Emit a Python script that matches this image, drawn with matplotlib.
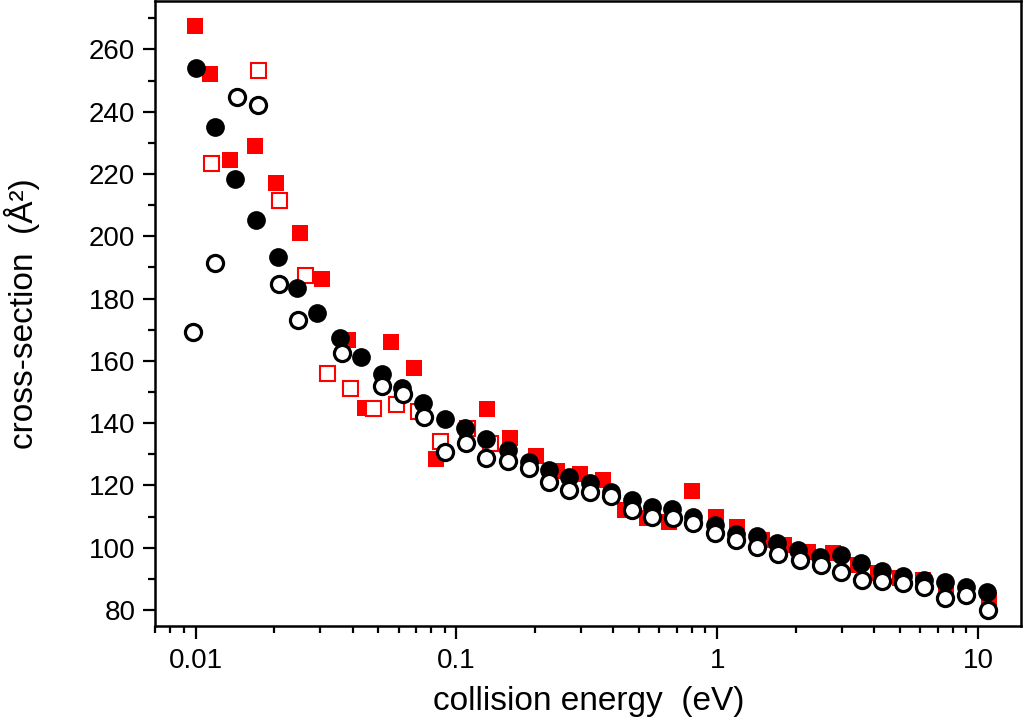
import matplotlib
matplotlib.use("Agg")
import matplotlib.pyplot as plt
from matplotlib.ticker import FixedLocator, MultipleLocator, LogLocator, NullFormatter

# collision energy (eV) and cross-section (A^2)
e_filled_circ = [0.0100, 0.0119, 0.0142, 0.0171, 0.0206, 0.0244, 0.0293, 0.0359,
                 0.0429, 0.0516, 0.0621, 0.0747, 0.0900, 0.108, 0.130, 0.157,
                 0.189, 0.227, 0.271, 0.326, 0.393, 0.473, 0.564, 0.672, 0.809,
                 0.982, 1.18, 1.42, 1.70, 2.04, 2.48, 2.99, 3.56, 4.29, 5.16,
                 6.21, 7.47, 9.00, 10.8]
cs_filled_circ = [253.9, 235.0, 218.3, 205.2, 193.4, 183.4, 175.4, 167.4,
                  161.3, 155.9, 151.4, 146.6, 141.5, 138.3, 134.8, 131.3,
                  127.4, 124.9, 122.6, 120.7, 117.8, 115.2, 113.0, 112.3, 109.8,
                  107.2, 104.3, 103.7, 101.4, 99.2, 97.0, 97.6, 95.0, 92.5, 90.9,
                  89.6, 88.9, 87.4, 85.8]

e_open_circ = [0.0098, 0.0119, 0.0144, 0.0173, 0.0208, 0.0246, 0.0363, 0.0519,
               0.0624, 0.0751, 0.0900, 0.109, 0.130, 0.157, 0.189, 0.227,
               0.271, 0.326, 0.393, 0.473, 0.564, 0.677, 0.809, 0.982, 1.18,
               1.42, 1.71, 2.08, 2.50, 2.99, 3.58, 4.29, 5.16, 6.21, 7.47,
               9.00, 10.9]
cs_open_circ = [169.4, 191.5, 244.6, 242.1, 184.7, 173.2, 162.6, 152.0,
                149.5, 142.1, 130.6, 133.5, 128.7, 128.0, 125.5, 121.0,
                118.4, 117.8, 116.5, 112.0, 109.8, 109.5, 107.9, 104.7, 102.4,
                100.2, 97.9, 96.0, 94.4, 92.2, 89.6, 89.3, 88.6, 87.4, 83.8,
                84.8, 80.0]

e_filled_sq = [0.0099, 0.0113, 0.0136, 0.0169, 0.0204, 0.0252, 0.0305, 0.0385,
               0.0447, 0.0559, 0.0690, 0.0834, 0.131, 0.161, 0.201, 0.244,
               0.297, 0.366, 0.441, 0.540, 0.656, 0.803, 0.987, 1.19, 1.49,
               1.81, 2.23, 2.77, 3.45, 4.13, 5.02, 6.17, 7.54, 11.0]
cs_filled_sq = [267.4, 252.0, 224.4, 228.9, 217.1, 201.1, 186.3, 166.8,
                145.0, 166.1, 157.8, 128.4, 144.4, 135.1, 129.6, 124.8,
                123.6, 121.6, 112.0, 109.5, 108.2, 118.1, 109.8, 106.6, 102.4,
                100.8, 98.6, 98.2, 94.5, 91.8, 90.4, 89.6, 86.4, 83.2]

e_open_sq = [0.0115, 0.0173, 0.0208, 0.0262, 0.0318, 0.0389, 0.0479, 0.0588,
             0.0712, 0.0862, 0.110, 0.134]
cs_open_sq = [223.5, 253.3, 211.6, 187.6, 156.2, 151.4, 145.0, 146.0,
              144.0, 134.4, 138.3, 133.5]

red = "#ff0000"
sans = ["Liberation Sans", "DejaVu Sans"]

fig = plt.figure(figsize=(10.25, 7.27), dpi=100)
ax = fig.add_axes([0.151, 0.139, 0.845, 0.859])

ax.plot(e_filled_sq, cs_filled_sq, "s", ms=12.2, color=red, mec=red, mew=0, zorder=2)
ax.plot(e_open_sq, cs_open_sq, "s", ms=10.8, mfc="white", mec=red, mew=1.5, zorder=3)
ax.plot(e_filled_circ, cs_filled_circ, "o", ms=13.5, color="black", mew=0, zorder=4)
ax.plot(e_open_circ, cs_open_circ, "o", ms=11.6, mfc="white", mec="black", mew=2.3, zorder=5)

ax.set_xscale("log")
ax.set_xlim(0.00697, 14.6)
ax.set_ylim(74.9, 275.4)

ax.xaxis.set_major_locator(FixedLocator([0.01, 0.1, 1, 10]))
ax.set_xticklabels(["0.01", "0.1", "1", "10"])
ax.xaxis.set_minor_locator(LogLocator(base=10, subs=range(2, 10)))
ax.xaxis.set_minor_formatter(NullFormatter())

ax.yaxis.set_major_locator(MultipleLocator(20))
ax.yaxis.set_minor_locator(MultipleLocator(10))

ax.tick_params(which="major", direction="out", length=9, width=1.6, pad=5,
               labelsize=20, labelfontfamily="Liberation Sans")
ax.tick_params(which="minor", direction="out", length=5, width=1.6)
ax.tick_params(axis="x", which="major", pad=7)
for s in ax.spines.values():
    s.set_linewidth(1.8)

ax.set_xlabel("collision energy  (eV)", family=sans, fontsize=24, va="center")
ax.set_ylabel("cross-section  (Å²)", family=sans, fontsize=24, va="center")
ax.xaxis.set_label_coords(0.501, -0.121)
ax.yaxis.set_label_coords(-0.153, 0.5)

fig.savefig("out.png", dpi=100)
